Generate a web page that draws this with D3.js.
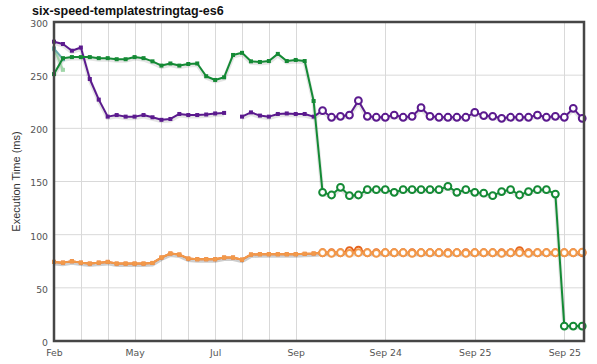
<!DOCTYPE html>
<html><head><meta charset="utf-8">
<script src="https://cdn.jsdelivr.net/npm/d3@7"></script>
<style>body{margin:0;background:#fff}svg{display:block}</style>
</head><body>
<svg id="c" width="597" height="364"></svg>
<script>
const title = "six-speed-templatestringtag-es6";
const yTitle = "Execution Time (ms)";
const yTicks = [0, 50, 100, 150, 200, 250, 300];
const gridIdx = [0, 3, 6, 9, 12, 15, 18, 21, 24, 27, 37, 47, 57];
const xLabelIdx = [0, 9, 18, 27, 37, 47, 57];
const xLabels = ["Feb", "May", "Jul", "Sep", "Sep 24", "Sep 25", "Sep 25"];
const circleStart = 30;

const purple = [281.5, 279.3, 273, 276, 246.4, 227, 211, 212.5, 211, 211, 212.5, 210.4, 208, 208.8, 213.5, 212.5, 212.5, 213, 214, 214.5, null, 211, 215, 212, 211, 213.5, 214, 213.5, 213.5, 211,
  216.6, 210.4, 211.3, 212.5, 226, 211.3, 210.4, 210.4, 212.5, 210.4, 211.3, 219.4, 211.3, 210.4, 210.4, 210.4, 210.4, 215, 212, 211.3, 209.4, 210.4, 210.4, 210.4, 212.5, 210.4, 211.3, 210.4, 218.8, 209.4];
const green = [251, 266, 267, 267, 267, 266, 266, 265, 265, 267, 266, 263, 259, 261, 259, 260.5, 261, 249, 245.5, 248, 269, 271, 263, 262.4, 263.3, 270, 263.3, 264.3, 263.3, 225.7,
  139.8, 137.3, 144.5, 136.7, 137.3, 142.3, 142.3, 142.3, 139.8, 142.3, 142.3, 142.3, 142.3, 142.3, 145.5, 139.8, 142.3, 139.8, 139, 136.7, 140.5, 142.3, 137.3, 140.5, 142.3, 142.3, 138.2, 14, 14, 14];
const orangeDark = [74.4, 73.7, 75, 73.7, 72.8, 73.7, 74.4, 72.8, 72.8, 72.8, 72.8, 73.4, 78.5, 82.3, 81.3, 77.5, 76.9, 76.9, 76.9, 78.5, 78.5, 76.5, 81.3, 81.6, 81.6, 81.6, 81.6, 81.6, 82, 82.3,
  83, 83, 83, 85, 85.5, 83, 83, 83, 83, 83, 83, 83, 83, 83, 83, 83, 83, 83, 83, 83, 83, 83, 85, 83, 83, 83, 83, 83, 83, 83];
const orange = [74.4, 73.7, 75, 73.7, 72.8, 73.7, 74.4, 72.8, 72.8, 72.8, 72.8, 73.4, 78.5, 82.3, 81.3, 77.5, 76.9, 76.9, 76.9, 78.5, 78.5, 76.5, 81.3, 81.6, 81.6, 81.6, 81.6, 81.6, 82, 82.3,
  83, 82.5, 83, 82.5, 83, 83, 82.5, 83, 83, 83, 82.5, 83, 83, 83, 82.5, 83, 82.5, 83, 83, 83, 82.5, 83, 83, 82.5, 83, 83, 83, 83, 83, 83.5];
const mint = [275, 255];
const teal = [275, 265];

const series = [
  {name: "mint", values: mint, color: "#9fd6a8"},
  {name: "teal", values: teal, color: "#6aaeb0"},
  {name: "orangeDark", values: orangeDark, color: "#e5631c"},
  {name: "orange", values: orange, color: "#f2994a"},
  {name: "purple", values: purple, color: "#5b1a8e"},
  {name: "green", values: green, color: "#148a35"}
];

const L = 54, R = 584, T = 22, B = 341;
const x = d3.scaleLinear().domain([0, 59.2]).range([L, R]);
const y = d3.scaleLinear().domain([0, 300]).range([B, T]);
const svg = d3.select("#c");

// grid
svg.append("g").selectAll("line.h").data(yTicks.slice(1, -1)).join("line")
  .attr("x1", L).attr("x2", R).attr("y1", d => y(d)).attr("y2", d => y(d))
  .attr("stroke", "#d9d9d9").attr("stroke-width", 1);
svg.append("g").selectAll("line.v").data(gridIdx.slice(1)).join("line")
  .attr("x1", d => Math.round(x(d)) + 0.5).attr("x2", d => Math.round(x(d)) + 0.5).attr("y1", T).attr("y2", B)
  .attr("stroke", "#d9d9d9").attr("stroke-width", 1);

// axes labels
const yAxis = d3.axisLeft(y).tickValues(yTicks).tickSize(0).tickPadding(6);
const gy = svg.append("g").attr("transform", `translate(${L},1.5)`).call(yAxis);
gy.select(".domain").remove();
gy.selectAll("text").attr("font-family", "DejaVu Sans").attr("font-size", "9.3px").attr("fill", "#545454");

const xAxis = d3.axisBottom(x).tickValues(xLabelIdx).tickFormat((d, i) => xLabels[i]).tickSize(0).tickPadding(8);
const gx = svg.append("g").attr("transform", `translate(0,${B})`).call(xAxis);
gx.select(".domain").remove();
gx.selectAll("text").attr("font-family", "DejaVu Sans").attr("font-size", "9.3px").attr("fill", "#545454");

// series
const line = d3.line().defined(d => d.v != null).x(d => x(d.i)).y(d => y(d.v));
const plot = svg.append("g");
series.forEach(s => {
  const pts = s.values.map((v, i) => ({i, v}));
  plot.append("path").datum(pts).attr("d", line).attr("fill", "none")
    .attr("stroke", "rgba(0,0,0,0.1)").attr("stroke-width", 4).attr("transform", "translate(0,1.5)");
});
series.forEach(s => {
  const pts = s.values.map((v, i) => ({i, v}));
  const g = plot.append("g");
  g.append("path").datum(pts).attr("d", line).attr("fill", "none")
    .attr("stroke", s.color).attr("stroke-width", 2).attr("stroke-linejoin", "round");
  const valid = pts.filter(d => d.v != null);
  g.selectAll("rect").data(valid.filter(d => d.i < circleStart)).join("rect")
    .attr("x", d => x(d.i) - 2).attr("y", d => y(d.v) - 2).attr("width", 4).attr("height", 4)
    .attr("fill", s.color);
  g.selectAll("circle").data(valid.filter(d => d.i >= circleStart)).join("circle")
    .attr("cx", d => x(d.i)).attr("cy", d => y(d.v)).attr("r", 3.4)
    .attr("fill", "#fff").attr("stroke", s.color).attr("stroke-width", 2);
});

// border
svg.append("rect").attr("x", L).attr("y", T).attr("width", R - L).attr("height", B - T)
  .attr("fill", "none").attr("stroke", "#464646").attr("stroke-width", 2.5);

// titles
svg.append("text").attr("x", 32).attr("y", 14.5).text(title)
  .attr("font-family", "Liberation Sans, Arial, sans-serif").attr("font-weight", "bold").attr("font-size", "12.5px").attr("fill", "#111");
svg.append("text").attr("transform", `translate(20,${(T + B) / 2}) rotate(-90)`).attr("text-anchor", "middle")
  .text(yTitle).attr("font-family", "Liberation Sans, Arial, sans-serif").attr("font-size", "11px").attr("fill", "#333");
</script>
</body></html>
